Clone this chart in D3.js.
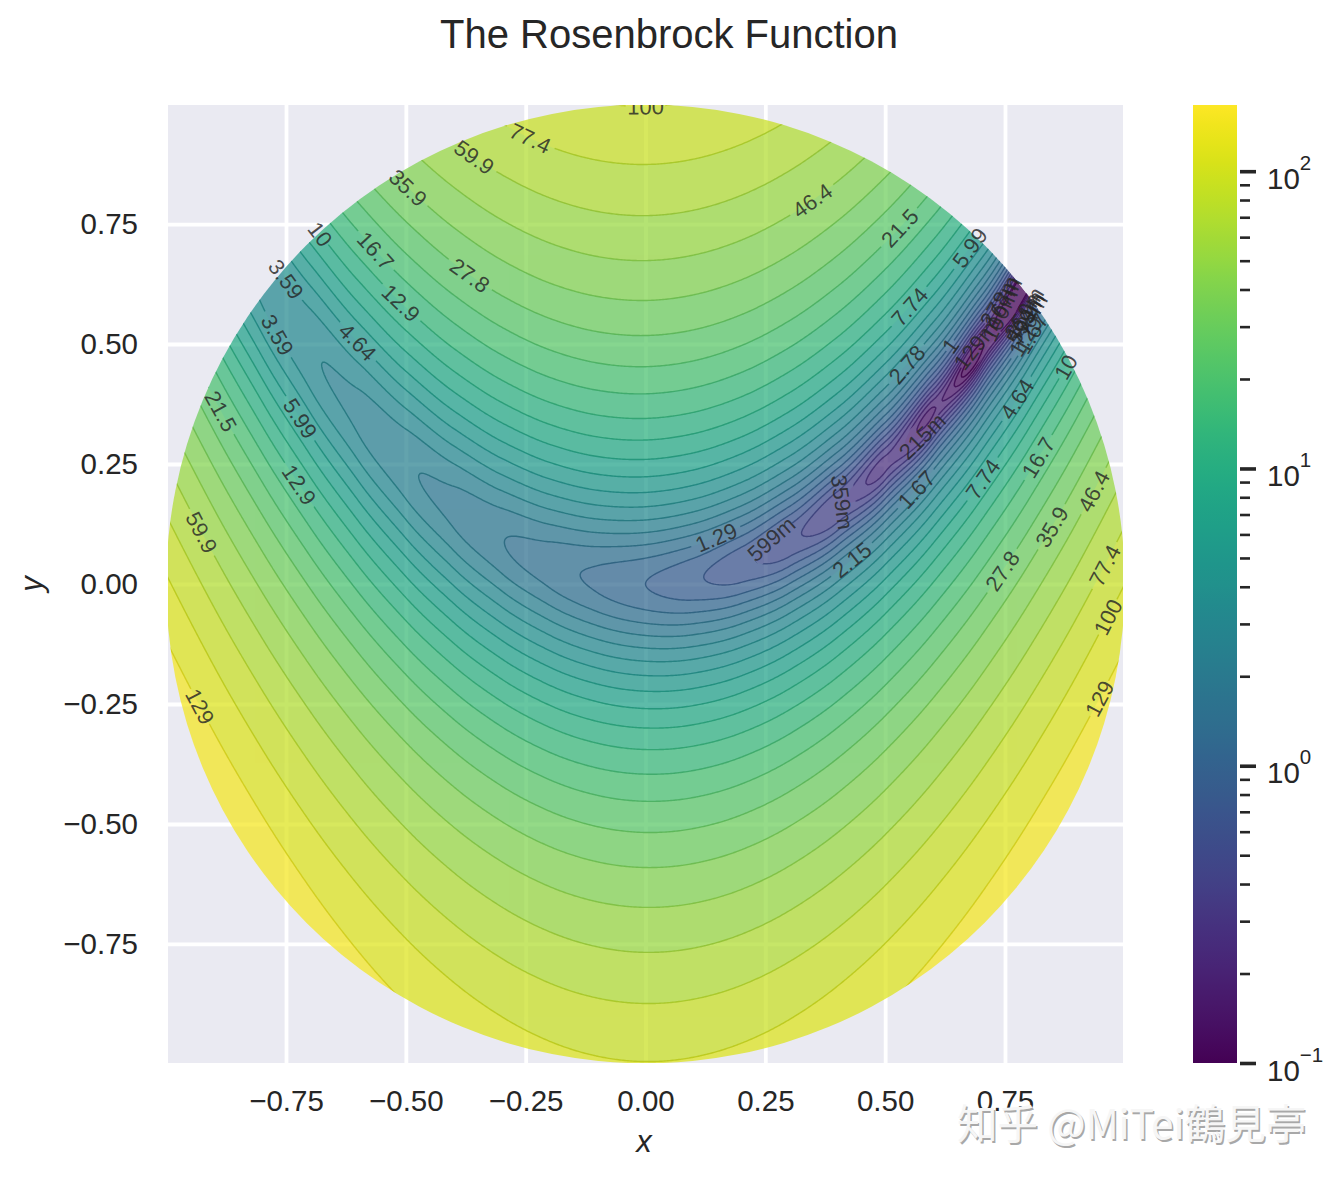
<!DOCTYPE html>
<html>
<head>
<meta charset="utf-8">
<script src="https://cdn.jsdelivr.net/npm/d3@7"></script>
<style>
  body { margin: 0; background: #fff; }
  text { font-family: "Liberation Sans", Arial, sans-serif; fill: #262626; }
</style>
</head>
<body>
<svg id="chart" width="1341" height="1180"></svg>
<script>
const titleText = "The Rosenbrock Function";
const watermarkText = "知乎 @MiTei鶴見亭";
const axisTicks = [-0.75, -0.5, -0.25, 0, 0.25, 0.5, 0.75];
const colorbarMajor = [0.1, 1, 10, 100];
const colorbarMinor = [0.2, 0.3, 0.4, 0.5, 0.6, 0.7, 0.8, 0.9, 2, 3, 4, 5, 6, 7, 8, 9, 20, 30, 40, 50, 60, 70, 80, 90];

// contour levels, from the inline labels
const levels = [0.1, 0.129, 0.167, 0.215, 0.278, 0.359, 0.464, 0.599, 0.774, 1, 1.29, 1.67, 2.15, 2.78, 3.59,
  4.64, 5.99, 7.74, 10, 12.9, 16.7, 21.5, 27.8, 35.9, 46.4, 59.9, 77.4, 100, 129, 167];

// samples every 0.1 in x and y (rows y = -1 to 1): worked out from the surface
// the title names, checked against the inline contour labels
const gridStart = -1, gridStep = 0.1;
const surfaceRows = [
  [404, 331.22, 272.2, 224.9, 187.52, 158.5, 136.52, 120.5, 109.6, 103.22, 101, 102.82, 108.8, 119.3, 134.92, 156.5, 185.12, 222.1, 269, 327.62, 400],
  [365, 296.02, 240.4, 196.1, 161.32, 134.5, 114.32, 99.7, 89.8, 84.02, 82, 83.62, 89, 98.5, 112.72, 132.5, 158.92, 193.3, 237.2, 292.42, 361],
  [328, 262.82, 210.6, 169.3, 137.12, 112.5, 94.12, 80.9, 72, 66.82, 65, 66.42, 71.2, 79.7, 92.52, 110.5, 134.72, 166.5, 207.4, 259.22, 324],
  [293, 231.62, 182.8, 144.5, 114.92, 92.5, 75.92, 64.1, 56.2, 51.62, 50, 51.22, 55.4, 62.9, 74.32, 90.5, 112.52, 141.7, 179.6, 228.02, 289],
  [260, 202.42, 157, 121.7, 94.72, 74.5, 59.72, 49.3, 42.4, 38.42, 37, 38.02, 41.6, 48.1, 58.12, 72.5, 92.32, 118.9, 153.8, 198.82, 256],
  [229, 175.22, 133.2, 100.9, 76.52, 58.5, 45.52, 36.5, 30.6, 27.22, 26, 26.82, 29.8, 35.3, 43.92, 56.5, 74.12, 98.1, 130, 171.62, 225],
  [200, 150.02, 111.4, 82.1, 60.32, 44.5, 33.32, 25.7, 20.8, 18.02, 17, 17.62, 20, 24.5, 31.72, 42.5, 57.92, 79.3, 108.2, 146.42, 196],
  [173, 126.82, 91.6, 65.3, 46.12, 32.5, 23.12, 16.9, 13, 10.82, 10, 10.42, 12.2, 15.7, 21.52, 30.5, 43.72, 62.5, 88.4, 123.22, 169],
  [148, 105.62, 73.8, 50.5, 33.92, 22.5, 14.92, 10.1, 7.2, 5.62, 5, 5.22, 6.4, 8.9, 13.32, 20.5, 31.52, 47.7, 70.6, 102.02, 144],
  [125, 86.42, 58, 37.7, 23.72, 14.5, 8.72, 5.3, 3.4, 2.42, 2, 2.02, 2.6, 4.1, 7.12, 12.5, 21.32, 34.9, 54.8, 82.82, 121],
  [104, 69.22, 44.2, 26.9, 15.52, 8.5, 4.52, 2.5, 1.6, 1.22, 1, 0.82, 0.8, 1.3, 2.92, 6.5, 13.12, 24.1, 41, 65.62, 100],
  [85, 54.02, 32.4, 18.1, 9.32, 4.5, 2.32, 1.7, 1.8, 2.02, 2, 1.62, 1, 0.5, 0.72, 2.5, 6.92, 15.3, 29.2, 50.42, 81],
  [68, 40.82, 22.6, 11.3, 5.12, 2.5, 2.12, 2.9, 4, 4.82, 5, 4.42, 3.2, 1.7, 0.52, 0.5, 2.72, 8.5, 19.4, 37.22, 64],
  [53, 29.62, 14.8, 6.5, 2.92, 2.5, 3.92, 6.1, 8.2, 9.62, 10, 9.22, 7.4, 4.9, 2.32, 0.5, 0.52, 3.7, 11.6, 26.02, 49],
  [40, 20.42, 9, 3.7, 2.72, 4.5, 7.72, 11.3, 14.4, 16.42, 17, 16.02, 13.6, 10.1, 6.12, 2.5, 0.32, 0.9, 5.8, 16.82, 36],
  [29, 13.22, 5.2, 2.9, 4.52, 8.5, 13.52, 18.5, 22.6, 25.22, 26, 24.82, 21.8, 17.3, 11.92, 6.5, 2.12, 0.1, 2, 9.62, 25],
  [20, 8.02, 3.4, 4.1, 8.32, 14.5, 21.32, 27.7, 32.8, 36.02, 37, 35.62, 32, 26.5, 19.72, 12.5, 5.92, 1.3, 0.2, 4.42, 16],
  [13, 4.82, 3.6, 7.3, 14.12, 22.5, 31.12, 38.9, 45, 48.82, 50, 48.42, 44.2, 37.7, 29.52, 20.5, 11.72, 4.5, 0.4, 1.22, 9],
  [8, 3.62, 5.8, 12.5, 21.92, 32.5, 42.92, 52.1, 59.2, 63.62, 65, 63.22, 58.4, 50.9, 41.32, 30.5, 19.52, 9.7, 2.6, 0.02, 4],
  [5, 4.42, 10, 19.7, 31.72, 44.5, 56.72, 67.3, 75.4, 80.42, 82, 80.02, 74.6, 66.1, 55.12, 42.5, 29.32, 16.9, 6.8, 0.82, 1],
  [4, 7.22, 16.2, 28.9, 43.52, 58.5, 72.52, 84.5, 93.6, 99.22, 101, 98.82, 92.8, 83.3, 70.92, 56.5, 41.12, 26.1, 13, 3.62, 0]
];

// inline labels: level, then roughly where it sits in data coordinates
const contourLabels = [
  [100, 0, 0.997], [77.4, -0.239, 0.932], [59.9, -0.356, 0.891], [46.4, 0.345, 0.803], [35.9, -0.493, 0.828],
  [21.5, 0.527, 0.745], [27.8, -0.366, 0.644], [16.7, -0.558, 0.699], [10, -0.677, 0.73], [5.99, 0.673, 0.703],
  [12.9, -0.506, 0.59], [7.74, 0.548, 0.58], [3.59, -0.746, 0.638], [3.59, -0.765, 0.521], [4.64, -0.6, 0.505],
  [1, 0.639, 0.494], [2.78, 0.539, 0.463], [5.99, -0.719, 0.346], [21.5, -0.884, 0.361], [12.9, -0.719, 0.209],
  [59.9, -0.925, 0.108], [129, -0.927, -0.254], [1.29, 0.147, 0.098], [0.599, 0.266, 0.09], [0.359, 0.41, 0.171],
  [2.15, 0.429, 0.052], [1.67, 0.562, 0.2], [0.215, 0.573, 0.315], [7.74, 0.7, 0.221], [4.64, 0.771, 0.388],
  [16.7, 0.817, 0.265], [10, 0.875, 0.453], [46.4, 0.934, 0.194], [35.9, 0.844, 0.121], [27.8, 0.742, 0.029],
  [77.4, 0.955, 0.04], [100, 0.965, -0.069], [129, 0.946, -0.238], [0.129, 0.692, 0.494], [0.278, 0.733, 0.592],
  [0.1, 0.74, 0.56], [0.167, 0.765, 0.585], [0.359, 0.775, 0.575], [0.464, 0.785, 0.56], [0.599, 0.79, 0.555],
  [0.774, 0.8, 0.55], [1.29, 0.82, 0.5], [1.67, 0.81, 0.52]
];

const svg = d3.select("#chart");
const axLeft = 168, axRight = 1123, axTop = 105, axBottom = 1063;
const x = d3.scaleLinear().domain([-0.9962, 0.9962]).range([axLeft, axRight]);
const y = d3.scaleLinear().domain([-0.998, 0.998]).range([axBottom, axTop]);
const color = d3.scaleSequentialLog(d3.interpolateViridis).domain([levels[0], levels[levels.length - 1]]);

// smooth reading of the sample table, so the narrow valley stays a clean line
const cubic = (a, b, c, d, t) => b + 0.5 * t * (c - a + t * (2 * a - 5 * b + 4 * c - d + t * (3 * (b - c) + d - a)));
const pick = (get, n, k) => k < 0 ? 3 * get(0) - 3 * get(1) + get(2)
  : k >= n ? 3 * get(n - 1) - 3 * get(n - 2) + get(n - 3) : get(k);
function surfaceAt(px, py) {
  const fx = (px - gridStart) / gridStep, fy = (py - gridStart) / gridStep;
  const i = Math.max(0, Math.min(19, Math.floor(fx))), j = Math.max(0, Math.min(19, Math.floor(fy)));
  const rowVal = r => {
    const row = surfaceRows[r], g = k => row[k];
    return cubic(pick(g, 21, i - 1), g(i), g(i + 1), pick(g, 21, i + 2), fx - i);
  };
  return Math.max(0, cubic(pick(rowVal, 21, j - 1), rowVal(j), rowVal(j + 1), pick(rowVal, 21, j + 2), fy - j));
}

const n = 601, step = 2 / (n - 1);
const values = new Float64Array(n * n);
for (let r = 0; r < n; r++) for (let c = 0; c < n; c++) values[r * n + c] = surfaceAt(-1 + c * step, -1 + r * step);
const contours = d3.contours().size([n, n]).thresholds(levels)(values);
const path = d3.geoPath(d3.geoTransform({
  point(cx, cy) { this.stream.point(x(-1 + (cx - 0.5) * step), y(-1 + (cy - 0.5) * step)); }
}));

const defs = svg.append("defs");
defs.append("clipPath").attr("id", "axes-clip").append("rect")
  .attr("x", axLeft).attr("y", axTop).attr("width", axRight - axLeft).attr("height", axBottom - axTop);
defs.append("clipPath").attr("id", "disc-clip").append("circle")
  .attr("cx", x(0)).attr("cy", y(0)).attr("r", x(1) - x(0));

// axes background and grid
svg.append("rect").attr("x", axLeft).attr("y", axTop).attr("width", axRight - axLeft).attr("height", axBottom - axTop).attr("fill", "#EAEAF2");
const xAxis = svg.append("g").attr("transform", `translate(0,${axBottom})`)
  .call(d3.axisBottom(x).tickValues(axisTicks).tickFormat(d3.format(".2f")).tickSize(-(axBottom - axTop)).tickPadding(27));
const yAxis = svg.append("g").attr("transform", `translate(${axLeft},0)`)
  .call(d3.axisLeft(y).tickValues(axisTicks).tickFormat(d3.format(".2f")).tickSize(-(axRight - axLeft)).tickPadding(30));
[xAxis, yAxis].forEach(a => {
  a.select(".domain").remove();
  a.selectAll("line").attr("stroke", "#fff").attr("stroke-width", 3.8);
  a.attr("font-family", null);
  a.selectAll("text").attr("font-size", 29.5).style("fill", "#262626");
});

const plot = svg.append("g").attr("clip-path", "url(#axes-clip)");
const disc = plot.append("g").attr("clip-path", "url(#disc-clip)");

// filled bands, painted lowest first; the group alpha lets the grid show through
const bands = disc.append("g").attr("opacity", 0.72);
bands.append("circle").attr("cx", x(0)).attr("cy", y(0)).attr("r", x(1) - x(0)).attr("fill", color(levels[0]));
bands.selectAll("path")
  .data(contours.slice(0, -1))
  .join("path")
  .attr("d", path)
  .attr("fill", (d, i) => color((levels[i] + levels[i + 1]) / 2));

const levelText = v => v < 1 ? Math.round(v * 1000) + "m" : String(v);
const fontSize = 22;

// slide each label onto its own contour and turn it along the line
const placed = contourLabels.map(([level, lx, ly]) => {
  let px = lx, py = ly, gx = 0, gy = 0;
  const e = 0.002;
  for (let k = 0; k < 6; k++) {
    gx = (surfaceAt(px + e, py) - surfaceAt(px - e, py)) / (2 * e);
    gy = (surfaceAt(px, py + e) - surfaceAt(px, py - e)) / (2 * e);
    const g2 = gx * gx + gy * gy || 1;
    let dx = (level - surfaceAt(px, py)) * gx / g2, dy = (level - surfaceAt(px, py)) * gy / g2;
    const len = Math.hypot(dx, dy);
    if (len > 0.015) { dx *= 0.015 / len; dy *= 0.015 / len; }
    px += dx; py += dy;
  }
  let angle = Math.atan2(-gx, -gy) * 180 / Math.PI;
  if (angle > 90) angle -= 180;
  if (angle < -90) angle += 180;
  // this one sits across the tip of its loop in the reference, nearly upright
  if (level === 0.359 && lx === 0.41) angle = 82;
  return { level, text: levelText(level), px: x(px), py: y(py), angle };
});

// lines take the level colour and break under their own label, as clabel does
contours.forEach((c, i) => {
  const own = placed.filter(p => p.level === levels[i]);
  const line = disc.append("path").attr("d", path(c)).attr("fill", "none")
    .attr("stroke", d3.color(color(levels[i])).darker(0.35)).attr("stroke-opacity", 0.85).attr("stroke-width", 1.4);
  if (!own.length) return;
  const mask = defs.append("mask").attr("id", `gap-${i}`).attr("maskUnits", "userSpaceOnUse")
    .attr("x", 0).attr("y", 0).attr("width", 1341).attr("height", 1180);
  mask.append("rect").attr("width", 1341).attr("height", 1180).attr("fill", "#fff");
  mask.selectAll("rect.gap").data(own).join("rect").attr("class", "gap")
    .attr("x", d => -d.text.length * fontSize * 0.3).attr("y", -fontSize * 0.6)
    .attr("width", d => d.text.length * fontSize * 0.6).attr("height", fontSize * 1.2)
    .attr("fill", "#000")
    .attr("transform", d => `translate(${d.px},${d.py}) rotate(${d.angle})`);
  line.attr("mask", `url(#gap-${i})`);
});

plot.append("g").selectAll("text").data(placed).join("text")
  .attr("transform", d => `translate(${d.px},${d.py}) rotate(${d.angle})`)
  .attr("text-anchor", "middle").attr("dy", "0.36em")
  .attr("font-size", fontSize).attr("fill-opacity", 0.82)
  .text(d => d.text);

// titles
svg.append("text").attr("x", 669).attr("y", 48).attr("text-anchor", "middle").attr("font-size", 40).text(titleText);
svg.append("text").attr("x", 644).attr("y", 1152).attr("text-anchor", "middle").attr("font-size", 31).attr("font-style", "italic").text("x");
svg.append("text").attr("transform", "translate(42,584) rotate(-90)").attr("text-anchor", "middle").attr("font-size", 31).attr("font-style", "italic").text("y");

// colorbar
const barLeft = 1193, barRight = 1237;
const barScale = d3.scaleLog().domain([levels[0], levels[levels.length - 1]]).range([axBottom, axTop]);
const grad = defs.append("linearGradient").attr("id", "viridis").attr("x1", 0).attr("x2", 0).attr("y1", 1).attr("y2", 0);
d3.range(0, 1.001, 0.02).forEach(t => grad.append("stop").attr("offset", t).attr("stop-color", d3.interpolateViridis(t)));
svg.append("rect").attr("x", barLeft).attr("y", axTop).attr("width", barRight - barLeft).attr("height", axBottom - axTop).attr("fill", "url(#viridis)");

const barMinor = svg.append("g").attr("transform", `translate(${barRight + 3},0)`)
  .call(d3.axisRight(barScale).tickValues(colorbarMinor).tickFormat("").tickSize(10));
const barMajor = svg.append("g").attr("transform", `translate(${barRight + 3},0)`)
  .call(d3.axisRight(barScale).tickValues(colorbarMajor).tickFormat("").tickSize(16));
[barMinor, barMajor].forEach(a => a.select(".domain").remove());
barMinor.selectAll("line").attr("stroke", "#262626").attr("stroke-width", 2.6);
barMajor.selectAll("line").attr("stroke", "#262626").attr("stroke-width", 3.6);
barMajor.selectAll(".tick text").remove();
const barLabel = barMajor.selectAll(".tick").append("text").attr("x", 27).attr("y", 17)
  .attr("font-family", "Liberation Sans").attr("font-size", 29.5).style("fill", "#262626");
barLabel.append("tspan").text("10");
barLabel.append("tspan").attr("dy", -19).attr("font-size", 20.5)
  .text(d => String(Math.round(Math.log10(d))).replace("-", "\u2212"));

// site watermark in the bottom corner
const mark = svg.append("g");
[["#a8a8a8", 1.5, 1.5], ["#f6f6f6", 0, 0]].forEach(([fill, dx, dy]) => {
  mark.append("text").attr("x", 957 + dx).attr("y", 1139 + dy)
    .attr("font-size", 40.6).style("font-family", "'Noto Sans CJK JP'").style("fill", fill).text(watermarkText);
});
</script>
</body>
</html>
